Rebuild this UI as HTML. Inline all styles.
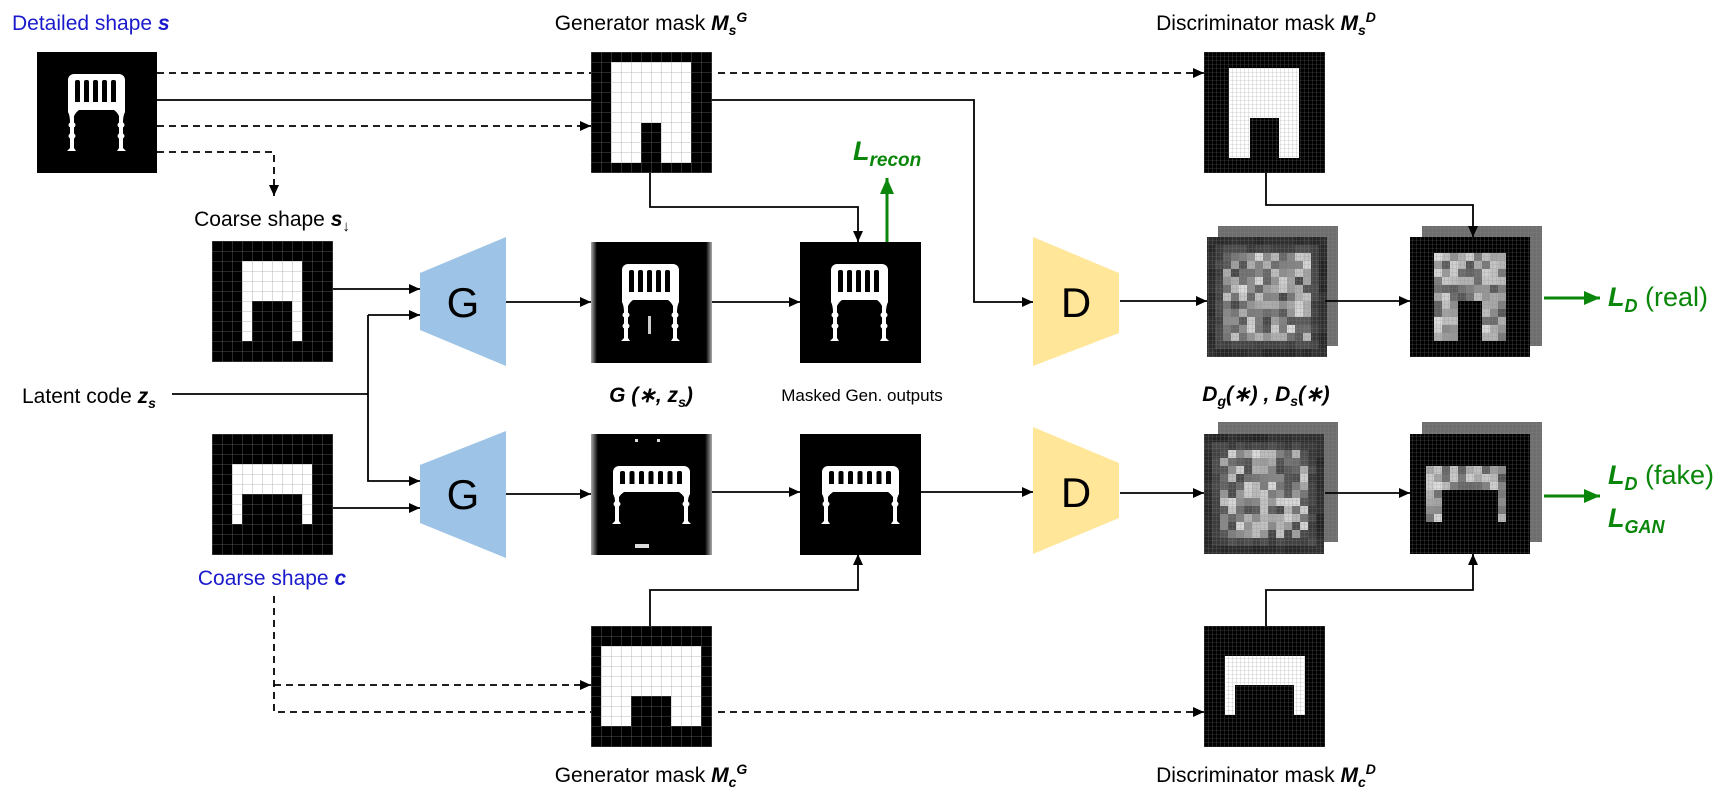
<!DOCTYPE html>
<html><head><meta charset="utf-8">
<style>
html,body{margin:0;padding:0;background:#fff;}
svg{display:block;}
text{font-family:"Liberation Sans",sans-serif;}
</style></head>
<body>
<svg id="s" width="1724" height="801" viewBox="0 0 1724 801" xmlns="http://www.w3.org/2000/svg">
<defs>
  <marker id="ah" markerUnits="userSpaceOnUse" markerWidth="11" markerHeight="10" refX="11" refY="5" orient="auto">
    <path d="M0,0 L11,5 L0,10 z" fill="#000"/>
  </marker>
  <marker id="gh" markerUnits="userSpaceOnUse" markerWidth="16" markerHeight="14" refX="16" refY="7" orient="auto">
    <path d="M0,0 L16,7 L0,14 z" fill="#0a870a"/>
  </marker>
  <pattern id="g10" width="10" height="10" patternUnits="userSpaceOnUse">
    <path d="M10,0 L0,0 L0,10" fill="none" stroke="#8a8a8a" stroke-width="0.8" opacity="0.75"/>
  </pattern>
  <pattern id="g4" width="4" height="4" patternUnits="userSpaceOnUse">
    <path d="M4,0 L0,0 L0,4" fill="none" stroke="#8a8a8a" stroke-width="0.6" opacity="0.7"/>
  </pattern>
  <g id="chairA">
    <rect x="31" y="22" width="57" height="36" rx="6" fill="#fff"/>
    <rect x="38" y="28" width="5" height="24" rx="2" fill="#000"/>
    <rect x="47" y="28" width="5" height="24" rx="2" fill="#000"/>
    <rect x="56" y="28" width="5" height="24" rx="2" fill="#000"/>
    <rect x="65" y="28" width="5" height="24" rx="2" fill="#000"/>
    <rect x="74" y="28" width="5" height="24" rx="2" fill="#000"/>
    <path d="M31,50 L31,60 Q33,64 33,70 L33,96 L30,99 L39,99 L37,96 L37,64 Q39,60 42,58 L77,58 Q80,60 82,64 L82,96 L80,99 L89,99 L86,96 L86,70 Q86,64 88,60 L88,50 z" fill="#fff"/>
    <ellipse cx="35" cy="73" rx="3.5" ry="3" fill="#fff"/><ellipse cx="35" cy="84" rx="3.5" ry="3" fill="#fff"/>
    <ellipse cx="84" cy="73" rx="3.5" ry="3" fill="#fff"/><ellipse cx="84" cy="84" rx="3.5" ry="3" fill="#fff"/>
  </g>
  <g id="chairB">
    <rect x="22" y="32" width="77" height="26" rx="6" fill="#fff"/>
    <rect x="29" y="37" width="5" height="15" rx="2" fill="#000"/>
    <rect x="38.5" y="37" width="5" height="15" rx="2" fill="#000"/>
    <rect x="48" y="37" width="5" height="15" rx="2" fill="#000"/>
    <rect x="57.5" y="37" width="5" height="15" rx="2" fill="#000"/>
    <rect x="67" y="37" width="5" height="15" rx="2" fill="#000"/>
    <rect x="76.5" y="37" width="5" height="15" rx="2" fill="#000"/>
    <rect x="86" y="37" width="5" height="15" rx="2" fill="#000"/>
    <path d="M22,50 L22,60 Q24,63 24,68 L24,87 L21,90 L30,90 L28,87 L28,63 Q30,60 33,58 L88,58 Q91,60 93,63 L93,87 L91,90 L100,90 L97,87 L97,68 Q97,63 99,60 L99,50 z" fill="#fff"/>
    <ellipse cx="26" cy="70" rx="3.5" ry="3" fill="#fff"/><ellipse cx="95" cy="70" rx="3.5" ry="3" fill="#fff"/>
  </g>
  <linearGradient id="edgeL" x1="0" x2="1"><stop offset="0" stop-color="#aaa"/><stop offset="1" stop-color="#000"/></linearGradient>
  <linearGradient id="edgeR" x1="1" x2="0"><stop offset="0" stop-color="#aaa"/><stop offset="1" stop-color="#000"/></linearGradient>
</defs>

<!-- feature maps (drawn first so connectors lie on top) -->
<g id="feat"></g>

<!-- ===== connectors ===== -->
<g fill="none" stroke="#000" stroke-width="1.8">
  <path d="M157,73 L591,73" stroke-dasharray="7,5"/>
  <path d="M718,73 L1204,73" stroke-dasharray="7,5" marker-end="url(#ah)"/>
  <path d="M157,100 L974,100 L974,302 L1033,302" marker-end="url(#ah)"/>
  <path d="M157,126 L591,126" stroke-dasharray="7,5" marker-end="url(#ah)"/>
  <path d="M157,152 L274,152 L274,196" stroke-dasharray="7,5" marker-end="url(#ah)"/>
  <path d="M650,173 L650,207 L858,207 L858,242" marker-end="url(#ah)"/>
  <path d="M1266,173 L1266,205 L1473,205 L1473,237" marker-end="url(#ah)"/>
  <path d="M333,289 L420,289" marker-end="url(#ah)"/>
  <path d="M172,394 L368,394"/>
  <path d="M368,315 L420,315" marker-end="url(#ah)"/>
  <path d="M368,315 L368,481 L420,481" marker-end="url(#ah)"/>
  <path d="M506,302 L591,302" marker-end="url(#ah)"/>
  <path d="M712,302 L800,302" marker-end="url(#ah)"/>
  <path d="M1120,301 L1207,301" marker-end="url(#ah)"/>
  <path d="M1325,301 L1410,301" marker-end="url(#ah)"/>
  <path d="M332,508 L420,508" marker-end="url(#ah)"/>
  <path d="M506,494 L591,494" marker-end="url(#ah)"/>
  <path d="M712,492 L800,492" marker-end="url(#ah)"/>
  <path d="M920,492 L1033,492" marker-end="url(#ah)"/>
  <path d="M1120,493 L1204,493" marker-end="url(#ah)"/>
  <path d="M1325,493 L1410,493" marker-end="url(#ah)"/>
  <path d="M650,626 L650,590 L858,590 L858,554" marker-end="url(#ah)"/>
  <path d="M1266,626 L1266,590 L1473,590 L1473,554" marker-end="url(#ah)"/>
  <path d="M274,596 L274,712 L591,712" stroke-dasharray="7,5"/>
  <path d="M718,712 L1204,712" stroke-dasharray="7,5" marker-end="url(#ah)"/>
  <path d="M274,685 L591,685" stroke-dasharray="7,5" marker-end="url(#ah)"/>
</g>
<g fill="none" stroke="#0a870a" stroke-width="3">
  <path d="M887,242 L887,178" marker-end="url(#gh)"/>
  <path d="M1544,298 L1600,298" marker-end="url(#gh)"/>
  <path d="M1544,496 L1600,496" marker-end="url(#gh)"/>
</g>

<rect x="37" y="52" width="120" height="121" fill="#000"/>
<use href="#chairA" x="37" y="52"/>

<g transform="translate(591,52)">
  <rect width="121" height="121" fill="#000"/>
  <rect x="20" y="10" width="80" height="101" fill="#fff"/>
  <rect x="50" y="71" width="20" height="40" fill="#000"/>
  <rect width="121" height="121" fill="url(#g10)"/>
</g>

<g transform="translate(1204,52)">
  <rect width="121" height="121" fill="#000"/>
  <rect x="25" y="16" width="70" height="90" fill="#fff"/>
  <rect x="46" y="66" width="29" height="40" fill="#000"/>
  <rect width="121" height="121" fill="url(#g4)"/>
</g>

<g transform="translate(212,241)">
  <rect width="121" height="121" fill="#000"/>
  <rect x="30" y="20" width="60" height="80" fill="#fff"/>
  <rect x="40" y="60" width="40" height="40" fill="#000"/>
  <rect width="121" height="121" fill="url(#g10)"/>
</g>

<g transform="translate(212,434)">
  <rect width="121" height="121" fill="#000"/>
  <rect x="20" y="30" width="80" height="60" fill="#fff"/>
  <rect x="30" y="60" width="60" height="30" fill="#000"/>
  <rect width="121" height="121" fill="url(#g10)"/>
</g>

<g transform="translate(591,626)">
  <rect width="121" height="121" fill="#000"/>
  <rect x="10" y="20" width="100" height="80" fill="#fff"/>
  <rect x="40" y="70" width="40" height="30" fill="#000"/>
  <rect width="121" height="121" fill="url(#g10)"/>
</g>

<g transform="translate(1204,626)">
  <rect width="121" height="121" fill="#000"/>
  <rect x="21" y="30" width="80" height="59" fill="#fff"/>
  <rect x="31" y="59" width="59" height="30" fill="#000"/>
  <rect width="121" height="121" fill="url(#g4)"/>
</g>

<g transform="translate(591,242)">
  <rect width="121" height="121" fill="#000"/>
  <rect width="6" height="121" fill="url(#edgeL)"/>
  <rect x="115" width="6" height="121" fill="url(#edgeR)"/>
  <use href="#chairA"/>
  <rect x="57" y="74" width="3" height="18" fill="#ccc"/>
</g>
<g transform="translate(591,434)">
  <rect width="121" height="121" fill="#000"/>
  <rect width="7" height="121" fill="url(#edgeL)"/>
  <rect x="114" width="7" height="121" fill="url(#edgeR)"/>
  <use href="#chairB"/>
  <rect x="44" y="110" width="14" height="4" fill="#ddd"/>
  <rect x="44" y="5" width="3" height="3" fill="#ddd"/><rect x="66" y="5" width="3" height="3" fill="#ddd"/>
</g>
<g transform="translate(800,242)">
  <rect width="121" height="121" fill="#000"/>
  <use href="#chairA"/>
</g>
<g transform="translate(800,434)">
  <rect width="121" height="121" fill="#000"/>
  <use href="#chairB"/>
</g>

<polygon points="420,273 506,237 506,366 420,330" fill="#9dc3e6"/>
<polygon points="420,465 506,431 506,558 420,523" fill="#9dc3e6"/>
<text x="463" y="317" font-size="42" text-anchor="middle">G</text>
<text x="463" y="509" font-size="42" text-anchor="middle">G</text>
<polygon points="1033,237 1119,273 1119,333 1033,366" fill="#ffe699"/>
<polygon points="1033,427 1119,463 1119,518 1033,554" fill="#ffe699"/>
<text x="1076" y="317" font-size="42" text-anchor="middle">D</text>
<text x="1076" y="507" font-size="42" text-anchor="middle">D</text>

<text x="12" y="30" font-size="21" fill="#1a1acc">Detailed shape <tspan font-weight="bold" font-style="italic">s</tspan></text>
<text x="651" y="30" font-size="21" text-anchor="middle">Generator mask <tspan font-weight="bold" font-style="italic">M<tspan font-size="14" dy="5">s</tspan><tspan font-size="14" dy="-13">G</tspan></tspan></text>
<text x="1266" y="30" font-size="21" text-anchor="middle">Discriminator mask <tspan font-weight="bold" font-style="italic">M<tspan font-size="14" dy="5">s</tspan><tspan font-size="14" dy="-13">D</tspan></tspan></text>
<text x="272" y="226" font-size="21" text-anchor="middle">Coarse shape <tspan font-weight="bold" font-style="italic">s</tspan><tspan font-size="15" dy="5">↓</tspan></text>
<text x="22" y="403" font-size="21">Latent code <tspan font-weight="bold" font-style="italic">z<tspan font-size="14" dy="5">s</tspan></tspan></text>
<text x="651" y="402" font-size="21" text-anchor="middle" font-weight="bold" font-style="italic">G (∗, z<tspan font-size="14" dy="5">s</tspan><tspan dy="-5">)</tspan></text>
<text x="862" y="401" font-size="17" text-anchor="middle">Masked Gen. outputs</text>
<text x="1266" y="401" font-size="21" text-anchor="middle" font-weight="bold" font-style="italic">D<tspan font-size="14" dy="5">g</tspan><tspan dy="-5">(∗) , D</tspan><tspan font-size="14" dy="5">s</tspan><tspan dy="-5">(∗)</tspan></text>
<text x="272" y="585" font-size="21" text-anchor="middle" fill="#1a1acc">Coarse shape <tspan font-weight="bold" font-style="italic">c</tspan></text>
<text x="651" y="782" font-size="21" text-anchor="middle">Generator mask <tspan font-weight="bold" font-style="italic">M<tspan font-size="14" dy="5">c</tspan><tspan font-size="14" dy="-13">G</tspan></tspan></text>
<text x="1266" y="782" font-size="21" text-anchor="middle">Discriminator mask <tspan font-weight="bold" font-style="italic">M<tspan font-size="14" dy="5">c</tspan><tspan font-size="14" dy="-13">D</tspan></tspan></text>
<text x="853" y="160" font-size="27" fill="#0a870a" font-weight="bold" font-style="italic">L<tspan font-size="19" dy="6">recon</tspan></text>
<text x="1608" y="306" font-size="27" fill="#0a870a"><tspan font-weight="bold" font-style="italic">L</tspan><tspan font-size="18" dy="6" font-weight="bold" font-style="italic">D</tspan><tspan dy="-6"> (real)</tspan></text>
<text x="1608" y="484" font-size="27" fill="#0a870a"><tspan font-weight="bold" font-style="italic">L</tspan><tspan font-size="18" dy="6" font-weight="bold" font-style="italic">D</tspan><tspan dy="-6"> (fake)</tspan></text>
<text x="1608" y="527" font-size="27" fill="#0a870a" font-weight="bold" font-style="italic">L<tspan font-size="18" dy="6">GAN</tspan></text>
</svg>
<script>
(function(){
  var NS="http://www.w3.org/2000/svg";
  var g=document.getElementById("feat");
  var seed=12345;
  function rnd(){seed=(seed*1103515245+12345)&0x7fffffff;return seed/0x7fffffff;}
  function rect(x,y,w,h,f){var r=document.createElementNS(NS,"rect");r.setAttribute("x",x);r.setAttribute("y",y);r.setAttribute("width",w);r.setAttribute("height",h);r.setAttribute("fill",f);g.appendChild(r);return r;}
  function gray(v){v=Math.max(0,Math.min(255,Math.round(v)));return "rgb("+v+","+v+","+v+")";}
  function back(x,y){rect(x,y,120,120,"#6e6e6e");rect(x,y,120,120,"url(#g4)");}
  function feature(x,y,mask){
    rect(x,y,120,120,"#000");
    for(var j=0;j<15;j++){for(var i=0;i<15;i++){
      var cx=i*8,cy=j*8;
      var v;
      var edge=Math.min(i,j,14-i,14-j);
      if(mask){
        if(!mask(cx+4,cy+4)) continue;
        v=80+rnd()*140;
      } else {
        if(edge==0) v=35+rnd()*15;
        else if(edge==1) v=55+rnd()*25;
        else v=70+rnd()*150;
      }
      rect(x+cx,y+cy,8,8,gray(v));
    }}
    rect(x,y,120,120,"url(#g4)");
  }
  back(1218,226); feature(1207,237,null);
  back(1422,226); feature(1410,237,function(px,py){return px>=25&&px<95&&py>=16&&py<106&&!(px>=46&&px<76&&py>=66);});
  back(1218,422); feature(1204,434,null);
  back(1422,422); feature(1410,434,function(px,py){return px>=20&&px<100&&py>=29&&py<89&&!(px>=32&&px<90&&py>=59);});
})();
</script>
</body></html>
